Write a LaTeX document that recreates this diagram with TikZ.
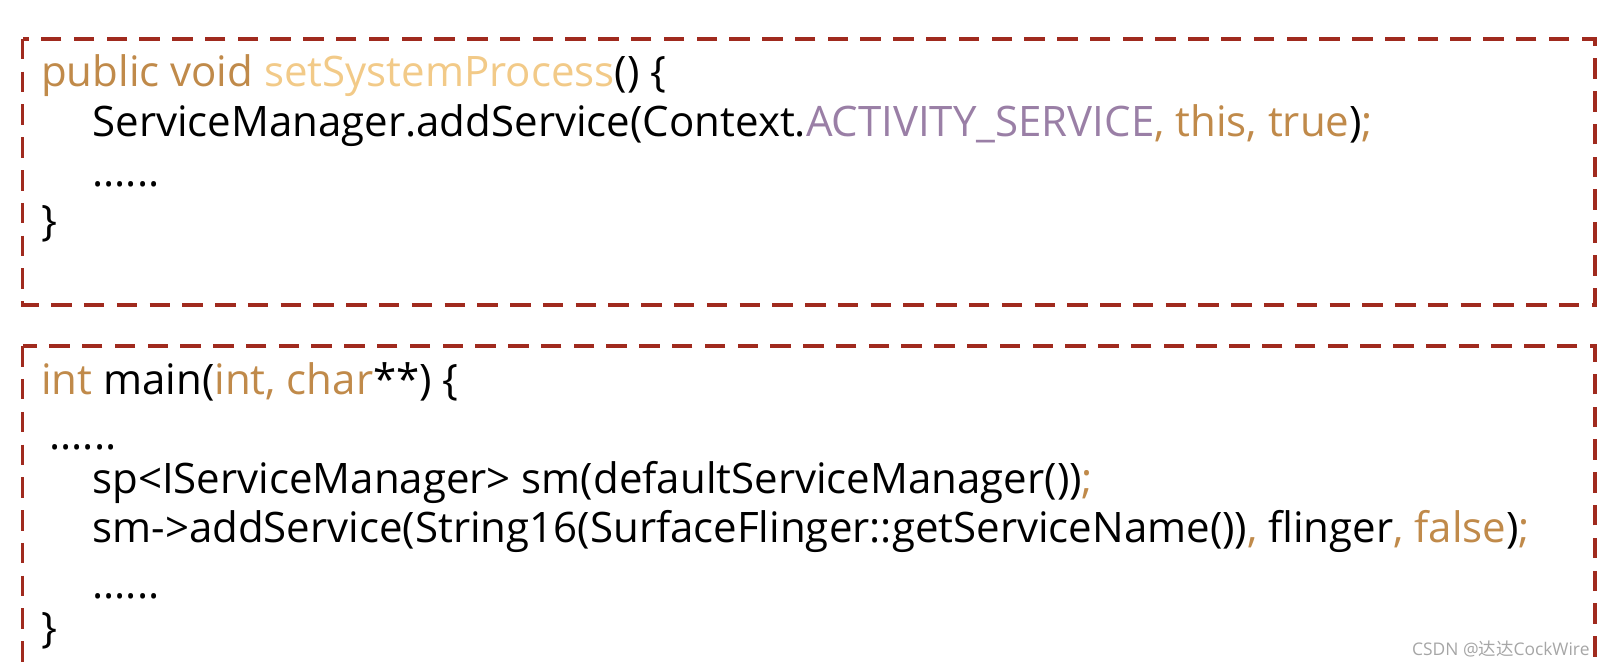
\documentclass[tikz,border=0pt]{standalone}
\usepackage{fontspec}
\setmainfont{Open Sans}
\newfontfamily\cjk{Noto Sans CJK SC}
\definecolor{kw}{HTML}{C08A4A}
\definecolor{fn}{HTML}{F2CA88}
\definecolor{cst}{HTML}{9A7FA6}
\definecolor{frame}{HTML}{A02A1E}
\begin{document}
\begin{tikzpicture}[x=1pt,y=-1pt,
  box/.style={draw=frame,line width=3.5pt,dash pattern=on 20pt off 12pt},
  code/.style={anchor=base west,inner sep=0pt,font=\fontsize{41}{46}\selectfont}]
\draw[box] (22,38) rectangle (1557,298);
\draw[box] (22,338) rectangle (1557,650);
\node[code] (a1) at (40,84) {\color{kw}public void \color{fn}setSystemProcess\color{black}() \{};
\node[code] (a2) at (90,133) {ServiceManager.addService(Context.\textcolor{cst}{ACTIVITY\_SERVICE}\textcolor{kw}{, this, true})\textcolor{kw}{;}};
\node[code] (a3) at (90,182) {......};
\node[code] (a4) at (40,230) {\}};
\node[code] (b1) at (40,385) {\textcolor{kw}{int} main(\textcolor{kw}{int, char}**) \{};
\node[code] (b2) at (48,439) {......};
\node[code] (b3) at (90,482) {sp<IServiceManager> sm(defaultServiceManager())\textcolor{kw}{;}};
\node[code] (b4) at (90,530) {sm->addService(String16(SurfaceFlinger::getServiceName())\textcolor{kw}{,} flinger\textcolor{kw}{, false})\textcolor{kw}{;}};
\node[code] (b5) at (90,584) {......};
\node[code] (b6) at (40,627) {\}};
\node[anchor=base east,inner sep=0pt,font=\fontsize{17}{20}\selectfont,text=gray!70] (wm) at (1552,640) {CSDN @{\cjk 达达}CockWire};
\pgfresetboundingbox
\useasboundingbox (0,0) rectangle (1564,648);
\end{tikzpicture}
\end{document}
